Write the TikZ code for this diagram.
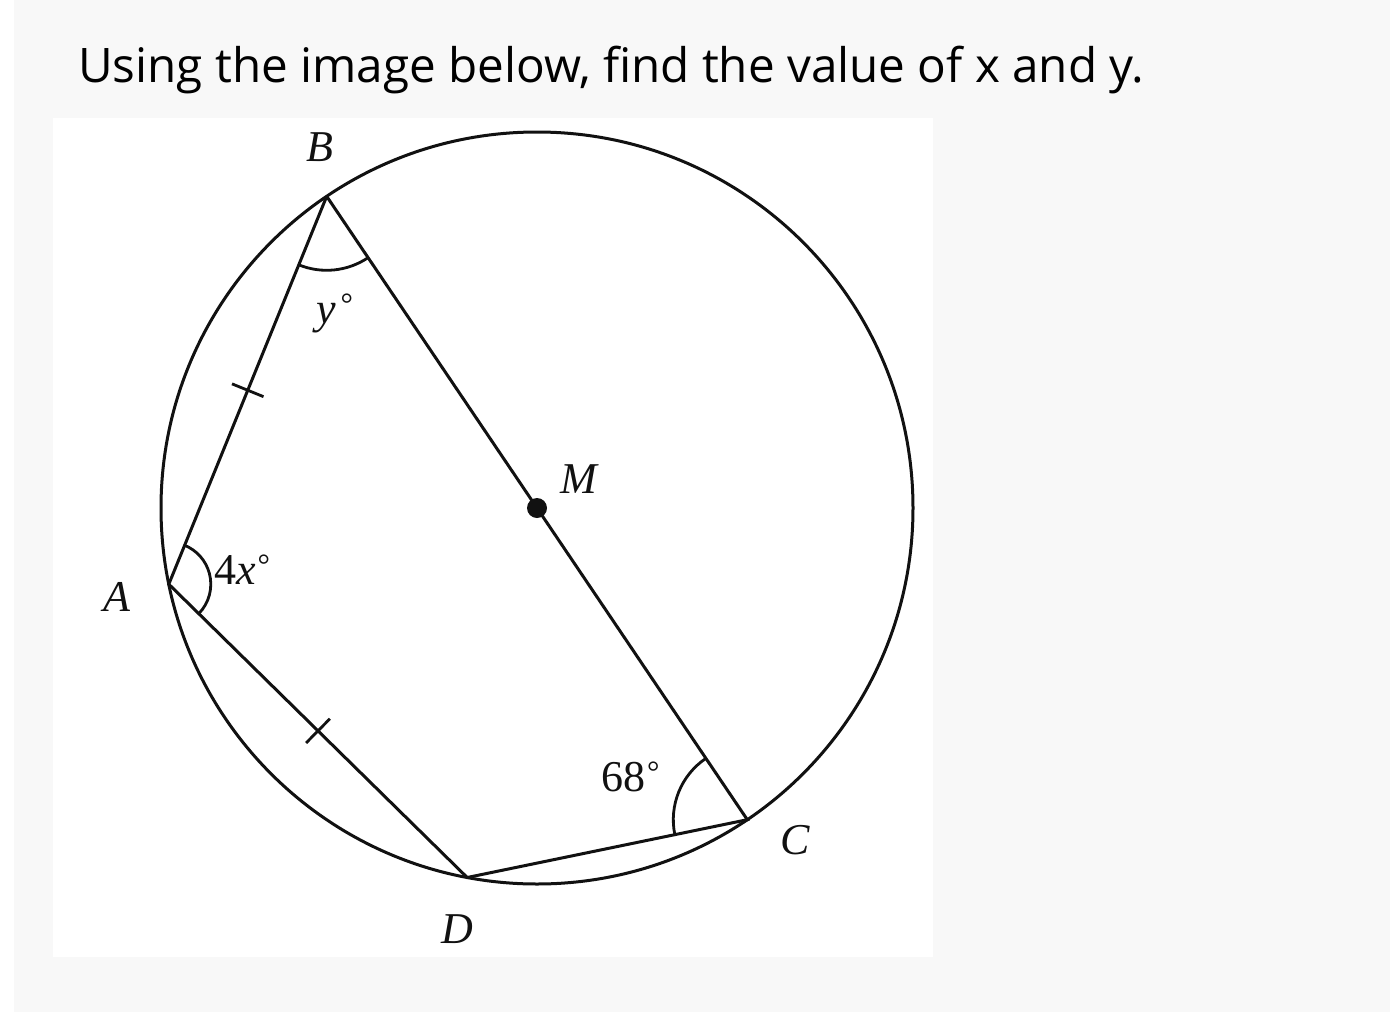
\documentclass[tikz,border=0pt]{standalone}
\usepackage{fontspec}
\setmainfont{Open Sans}
\newfontfamily\labfont{Liberation Serif}
\usetikzlibrary{calc,angles}
\definecolor{bg}{HTML}{F8F8F8}
\definecolor{ink}{HTML}{111111}
\newcommand{\dgr}{\raisebox{9pt}{\fontsize{31}{31}\selectfont\upshape°}}
\begin{document}
\begin{tikzpicture}[x=1pt,y=-1pt,
  geo/.style={line width=3pt, draw=ink},
  lab/.style={font=\labfont\fontsize{44}{50}\selectfont\itshape, text=ink, inner sep=0pt},
  labup/.style={font=\labfont\fontsize{44}{50}\selectfont, text=ink, inner sep=0pt},
  tickmark/.style={line width=2.8pt, draw=ink}]
\useasboundingbox (0,0) rectangle (1390,1012);
\fill[white] (0,0) rectangle (1390,1012);
\fill[bg] (14,0) rectangle (1390,1012);
\fill[white] (53,118) rectangle (933,957);
\node[anchor=base west, inner sep=0pt, font=\fontsize{47.6}{56}\selectfont, text=black] (title) at (78,82) {Using the image below, find the value of x and y.};
% points
\coordinate (M) at (537,508);
\coordinate (B) at (326.7,196.3);
\coordinate (A) at (168.8,584.2);
\coordinate (D) at (467.2,877.5);
\coordinate (C) at (747.3,819.7);
\draw[geo] (M) circle[radius=376];
\draw[geo, line join=miter] (B) -- (A) -- (D) -- (C) -- (B);
\fill[ink] (M) circle[radius=10];
% angle arcs
\pic[draw=ink, line width=2.8pt, angle radius=74pt] {angle = A--B--C};
\pic[draw=ink, line width=2.8pt, angle radius=42pt] {angle = D--A--B};
\pic[draw=ink, line width=2.8pt, angle radius=74pt] {angle = B--C--D};
% tick marks
\draw[tickmark] ($(A)!0.5!(B)!17pt!90:(B)$) -- ($(A)!0.5!(B)!17pt!-90:(B)$);
\draw[tickmark] ($(A)!0.5!(D)!17pt!90:(D)$) -- ($(A)!0.5!(D)!17pt!-90:(D)$);
% labels
\node[lab] (lB) at (320,147) {B};
\node[lab] (lA) at (117,597) {A};
\node[lab] (lC) at (795,840) {C};
\node[lab] (lD) at (457,929) {D};
\node[lab] (lM) at (579,479) {M};
\node[lab, anchor=base west] (ly) at (316,323) {y\kern5pt\dgr};
\node[labup, anchor=base west] (lx) at (214,584) {4\textit{x}\kern2pt\dgr};
\node[labup, anchor=base west] (l68) at (601,791) {68\kern2pt\dgr};
\end{tikzpicture}
\end{document}
